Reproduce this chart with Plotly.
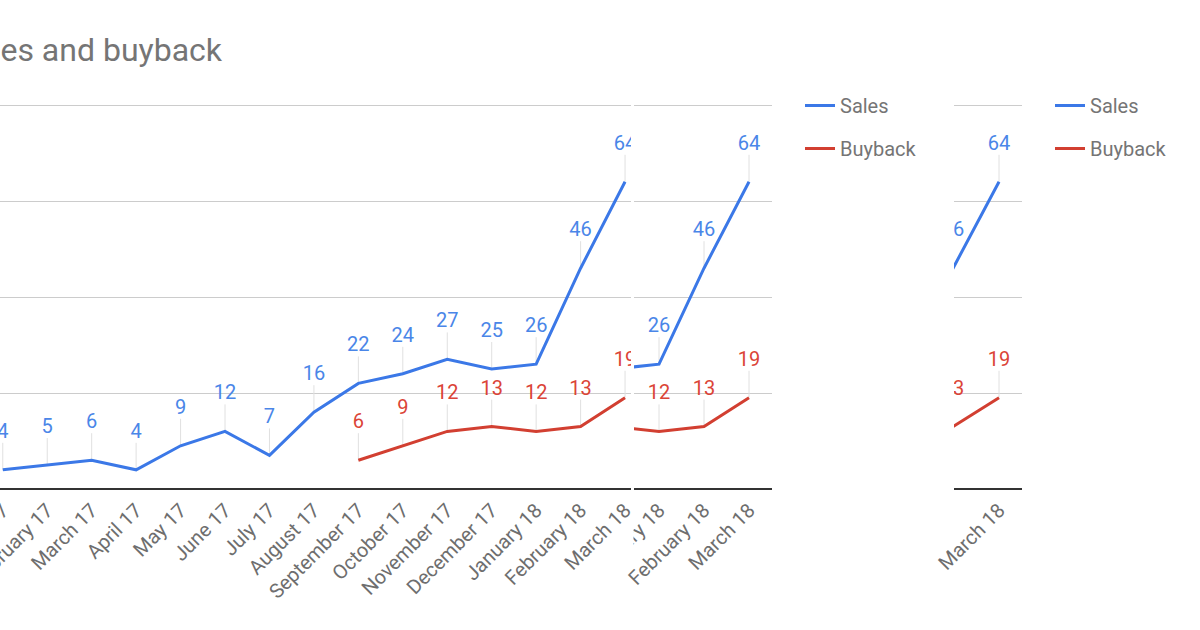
import plotly.graph_objects as go

# ---------------- data ----------------
title_text = "Sales and buyback"
months = [
    "January 17", "February 17", "March 17", "April 17", "May 17", "June 17",
    "July 17", "August 17", "September 17", "October 17", "November 17",
    "December 17", "January 18", "February 18", "March 18",
]
sales = [4, 5, 6, 4, 9, 12, 7, 16, 22, 24, 27, 25, 26, 46, 64]
buyback = [None, None, None, None, None, None, None, None, 6, 9, 12, 13, 12, 13, 19]
series_names = ["Sales", "Buyback"]
series_values = [sales, buyback]

# ---------------- style ----------------
W, H = 1200, 630
line_colors = ["#3b78e7", "#d23f31"]
label_colors = ["#4a86e8", "#db4437"]
FONT = "Roboto, Arial, sans-serif"
PX_PER_UNIT = 4.8          # y scale: 96 px per 20 units
LABEL_OFFSET_PX = 37       # data label centre above point
STEM_PX = 27               # leader line length
Y_RANGE = [-1, 82]
ZERO_PX = 489              # pixel row of y=0
y_bottom_px = ZERO_PX + (0 - Y_RANGE[0]) * PX_PER_UNIT
y_top_px = ZERO_PX - (Y_RANGE[1]) * PX_PER_UNIT
Y_DOMAIN = [(H - y_bottom_px) / H, (H - y_top_px) / H]

# three cropped views of the same chart: (pixel domain, category range, legend)
panels = [
    ((0, 631), (-0.0625, 14.134), None),
    ((634, 772), (11.444, 14.511), "legend"),
    ((954, 1022), (13.02, 14.5), "legend2"),
]

idx = list(range(len(months)))
fig = go.Figure()

for k, (dom, rng, leg) in enumerate(panels, start=1):
    sfx = "" if k == 1 else str(k)
    for s, (name, vals) in enumerate(zip(series_names, series_values)):
        tr = dict(
            x=idx, y=vals, name=name, mode="lines",
            line=dict(color=line_colors[s], width=3),
            error_y=dict(type="constant", symmetric=False,
                         value=STEM_PX / PX_PER_UNIT, valueminus=0,
                         width=0, thickness=1, color="#e0e0e0"),
            xaxis="x" + sfx, yaxis="y" + sfx, hoverinfo="skip",
            connectgaps=False,
        )
        if leg:
            tr.update(showlegend=True, legend=leg, legendgroup=f"{leg}-{name}")
        else:
            tr.update(showlegend=False)
        fig.add_trace(go.Scatter(**tr))
        fig.add_trace(go.Scatter(
            x=idx,
            y=[None if v is None else v + LABEL_OFFSET_PX / PX_PER_UNIT for v in vals],
            text=["" if v is None else str(v) for v in vals],
            mode="text", textposition="middle center",
            textfont=dict(size=20, color=label_colors[s], family=FONT),
            showlegend=False, hoverinfo="skip",
            xaxis="x" + sfx, yaxis="y" + sfx,
        ))
    fig.layout["xaxis" + sfx] = dict(
        domain=[dom[0] / W, dom[1] / W], range=list(rng),
        tickmode="array", tickvals=idx, ticktext=months, tickangle=-45,
        showgrid=False, zeroline=False, showline=False, ticks="",
        tickfont=dict(size=20, color="#6e6e6e", family=FONT),
        anchor="y" + sfx, fixedrange=True, automargin=False,
        ticklabeloverflow="allow",
    )
    fig.layout["yaxis" + sfx] = dict(
        domain=Y_DOMAIN, range=Y_RANGE,
        tickmode="array", tickvals=[0, 20, 40, 60, 80], showticklabels=False,
        showgrid=True, gridcolor="#cccccc", gridwidth=1,
        zeroline=True, zerolinecolor="#333333", zerolinewidth=2,
        showline=False, ticks="", anchor="x" + sfx, fixedrange=True,
        automargin=False,
    )

legend_style = dict(
    xanchor="left", yanchor="top", y=1 - 86 / H,
    font=dict(size=20, color="#757575", family=FONT),
    bgcolor="rgba(0,0,0,0)", borderwidth=0,
    traceorder="grouped", tracegroupgap=14,
)

# white mask: the second crop hides the part of its first tick label
# that lies left of its own edge
mask_path = "M {:.4f} {:.4f} L {:.4f} {:.4f} L {:.4f} {:.4f} L {:.4f} {:.4f} Z".format(
    633.5 / W, 1 - 512 / H, 633.5 / W, 1 - 558 / H,
    588 / W, 1 - 604 / H, 588 / W, 1 - 558 / H,
)

fig.update_layout(
    width=W, height=H,
    margin=dict(l=0, r=0, t=0, b=0, autoexpand=False),
    paper_bgcolor="white", plot_bgcolor="white",
    title=dict(text=title_text, x=222 / W, xanchor="right",
               y=1 - 50 / H, yanchor="middle", automargin=False,
               font=dict(size=32, color="#757575", family=FONT)),
    legend=dict(x=800 / W, **legend_style),
    legend2=dict(x=1050 / W, **legend_style),
    showlegend=True,
    shapes=[dict(type="path", path=mask_path, xref="paper", yref="paper",
                 fillcolor="white", line=dict(width=0), layer="above")],
)

fig.write_html("out.html")
